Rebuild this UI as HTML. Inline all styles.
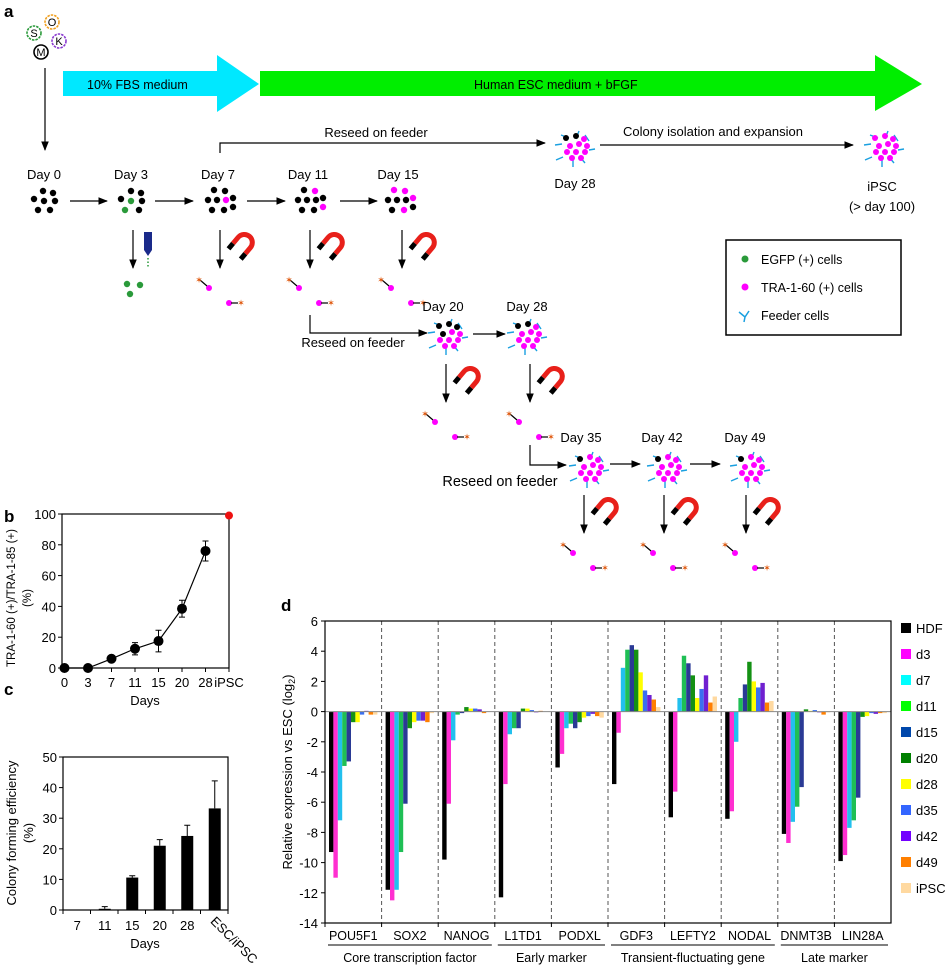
<!DOCTYPE html>
<html><head><meta charset="utf-8"><style>
html,body{margin:0;padding:0;background:#fff;}
svg{display:block;font-family:"Liberation Sans",Arial,sans-serif;}
</style></head><body>
<svg id="fig" width="946" height="971" viewBox="0 0 946 971" xmlns="http://www.w3.org/2000/svg">
<defs>
<marker id="ah" viewBox="0 0 10 10" refX="9" refY="5" markerWidth="8" markerHeight="8" orient="auto"><path d="M0,1 L10,5 L0,9 z" fill="#000"/></marker>
</defs>
<g id="panelA">
<text x="4" y="17" font-size="17" font-weight="bold">a</text>
<g font-size="11" text-anchor="middle">
<circle cx="34" cy="33" r="7" fill="#fff" stroke="#2a9a3a" stroke-width="1.6" stroke-dasharray="2.5 1"/><text x="34" y="37">S</text>
<circle cx="52" cy="22" r="7" fill="#fff" stroke="#f0a020" stroke-width="1.6" stroke-dasharray="2.5 1"/><text x="52" y="26">O</text>
<circle cx="59" cy="41" r="7" fill="#fff" stroke="#8a3ad0" stroke-width="1.6" stroke-dasharray="2.5 1"/><text x="59" y="45">K</text>
<circle cx="41" cy="52" r="7" fill="#fff" stroke="#000" stroke-width="1.6"/><text x="41" y="56">M</text>
</g>
<line x1="45" y1="68" x2="45" y2="150" stroke="#000" stroke-width="1.2" marker-end="url(#ah)"/>
<path d="M63,71 L217,71 L217,55 L259,84 L217,112 L217,96 L63,96 Z" fill="#00e8ff"/>
<text x="87" y="89" font-size="12.5">10% FBS medium</text>
<path d="M260,71 L875,71 L875,55 L922,84 L875,111 L875,96 L260,96 Z" fill="#00ee00"/>
<text x="474" y="89" font-size="12.5">Human ESC medium + bFGF</text>
<g id="dg" font-size="13" text-anchor="middle"></g>
<rect x="726" y="240" width="175" height="95" fill="#fff" stroke="#000" stroke-width="1.5"/>
<circle cx="745" cy="259" r="3.5" fill="#2a9a3a"/><text x="761" y="264" font-size="12.5">EGFP (+) cells</text>
<circle cx="745" cy="287" r="3.5" fill="#ff00ff"/><text x="761" y="292" font-size="12.5">TRA-1-60 (+) cells</text>
<path d="M739,312 L745,317 L749,311 M745,317 L744,322" stroke="#1aa0e0" stroke-width="1.5" fill="none"/><text x="761" y="320" font-size="12.5">Feeder cells</text>
</g>
<g id="panelB"></g>
<g id="panelC"></g>
<g id="panelD"></g>
</svg>
<script>
// ===== Panel b data =====
const bCats = ["0","3","7","11","15","20","28","iPSC"];
const bVals = [0,0,6,12.5,17.5,38.5,76,99];
const bErrs = [0,0,1.5,4,7,5.5,6.5,0];
const bTicks = [0,20,40,60,80,100];
// ===== Panel c data =====
const cCats = ["7","11","15","20","28","ESC/iPSC"];
const cVals = [0,0.4,10.6,21,24.2,33.2];
const cErrs = [0,0.7,0.6,2,3.5,9];
const cTicks = [0,10,20,30,40,50];
// ===== Panel d data =====
const dGenes = ["POU5F1","SOX2","NANOG","L1TD1","PODXL","GDF3","LEFTY2","NODAL","DNMT3B","LIN28A"];
const dSeries = ["HDF","d3","d7","d11","d15","d20","d28","d35","d42","d49","iPSC"];
const dHDF  = [-9.3,-11.8,-9.8,-12.3,-3.7,-4.8,-7.0,-7.1,-8.1,-9.9];
const dD3   = [-11.0,-12.5,-6.1,-4.8,-2.8,-1.4,-5.3,-6.6,-8.7,-9.5];
const dD7   = [-7.2,-11.8,-1.9,-1.5,-1.1,2.9,0.9,-2.0,-7.3,-7.7];
const dD11  = [-3.6,-9.3,-0.2,-1.1,-0.8,4.1,3.7,0.9,-6.3,-7.2];
const dD15  = [-3.3,-6.1,-0.1,-1.1,-1.1,4.4,3.2,1.8,-5.0,-5.7];
const dD20  = [-0.7,-1.1,0.3,0.2,-0.7,4.1,2.4,3.3,0.15,-0.35];
const dD28  = [-0.7,-0.7,0.2,0.2,-0.4,2.6,0.9,2.0,0.05,-0.3];
const dD35  = [-0.2,-0.6,0.2,0.1,-0.3,1.4,1.5,1.6,0.1,-0.1];
const dD42  = [0.05,-0.6,0.15,-0.05,-0.15,1.1,2.4,1.9,-0.05,-0.15];
const dD49  = [-0.2,-0.7,-0.1,0.05,-0.3,0.8,0.6,0.6,-0.2,-0.1];
const dIPSC = [-0.2,-0.1,0,0,-0.4,0.3,1.0,0.7,-0.05,-0.1];
const dTicks = [6,4,2,0,-2,-4,-6,-8,-10,-12,-14];
const dGroups = ["Core transcription factor","Early marker","Transient-fluctuating gene","Late marker"];
const dGroupSpan = [[0,2],[3,4],[5,7],[8,9]];

const NS="http://www.w3.org/2000/svg";
function mk(parent,tag,attrs,text){const e=document.createElementNS(NS,tag);for(const k in attrs)e.setAttribute(k,attrs[k]);if(text!==undefined)e.textContent=text;parent.appendChild(e);return e;}

// ===== Schematic =====
const dg=document.getElementById('dg');
function arrow(x1,y1,x2,y2){const l=mk(dg,'line',{x1,y1,x2,y2,stroke:'#000','stroke-width':1.2,'marker-end':'url(#ah)'});

}
function label(x,y,t){const e=mk(dg,'text',{x,y},t);

}
function dots(cx,cy,pts){pts.forEach(p=>mk(dg,'circle',{cx:cx+p[0],cy:cy+p[1],r:3.2,fill:p[2]}));}
const K='#000',M='#ff00ff',G='#2a9a3a';
function simple(cx,cy,mag){
  const base=[[-6,-11],[5,-10],[-12,-1],[-3,-1],[6,-1],[13,-3],[-8,9],[4,9],[13,6]];
  dots(cx,cy,base.map((p,i)=>[p[0],p[1],mag.includes(i)?M:K]));
}
function feederColony(cx,cy,nb){
  const g=mk(dg,'g',{});
  
  
  const f=[[-14,-12,-6,-9],[4,-16,1,-8],[10,-12,14,-6],[14,3,20,2],[5,10,10,16],[-2,12,-2,20],[-12,10,-19,13],[-13,-3,-20,-2]];
  f.forEach(s=>mk(g,'line',{x1:cx+s[0],y1:cy+s[1],x2:cx+s[2],y2:cy+s[3],stroke:'#1aa0e0','stroke-width':1.4}));
  const pts=[[-9,-9],[1,-11],[9,-8],[-5,-1],[4,-3],[12,-1],[-8,5],[1,5],[10,5],[-3,11],[6,11]];
  pts.forEach((p,i)=>mk(g,'circle',{cx:cx+p[0],cy:cy+p[1],r:3,fill:i<nb?K:M}));
}
function magnet(x,y){const g=mk(dg,'g',{transform:`translate(${x},${y}) rotate(40)`});
  
  
  mk(g,'path',{d:'M-8,6 L-8,-2 A8,8 0 0 1 8,-2 L8,6',fill:'none',stroke:'#e8201a','stroke-width':5});
  mk(g,'line',{x1:-8,y1:6,x2:-8,y2:13,stroke:'#000','stroke-width':5});
  mk(g,'line',{x1:8,y1:6,x2:8,y2:13,stroke:'#000','stroke-width':5});}
function ab(x,y){
  const g=mk(dg,'g',{});
  
  
  mk(g,'circle',{cx:x+9,cy:y+6,r:3,fill:M});mk(g,'line',{x1:x,y1:y-2,x2:x+7,y2:y+4,stroke:'#000','stroke-width':1.2});
  mk(g,'text',{x:x-1,y:y+1,'font-size':9,fill:'#e05a10'},'✶');
  mk(g,'circle',{cx:x+29,cy:y+21,r:3,fill:M});mk(g,'line',{x1:x+31,y1:y+21,x2:x+38,y2:y+21,stroke:'#000','stroke-width':1.2});
  mk(g,'text',{x:x+41,y:y+24,'font-size':9,fill:'#e05a10'},'✶');}
function downSort(x,y){arrow(x,y,x,y+38);magnet(x+23,y+14);ab(x-20,y+52);}
label(44,179,'Day 0');label(131,179,'Day 3');label(218,179,'Day 7');label(308,179,'Day 11');label(398,179,'Day 15');
dots(44,201,[[-1,-10,K],[9,-8,K],[-10,-2,K],[0,0,K],[11,0,K],[-6,9,K],[6,9,K]]);
dots(131,201,[[0,-10,K],[10,-8,K],[-10,-2,K],[0,0,G],[11,0,K],[-6,9,G],[8,9,K]]);
simple(220,201,[4]);simple(310,201,[1,8]);simple(400,201,[1,0,5,7]);
arrow(70,201,107,201);arrow(155,201,193,201);arrow(247,201,285,201);arrow(340,201,377,201);
mk(dg,'path',{d:'M220,153 L220,143 L545,143',fill:'none',stroke:'#000','stroke-width':1.2,'marker-end':'url(#ah)'});
mk(dg,'text',{x:376,y:137},'Reseed on feeder');
feederColony(575,147,2);label(575,188,'Day 28');
arrow(600,145,853,145);mk(dg,'text',{x:713,y:136},'Colony isolation and expansion');
feederColony(884,147,0);label(882,191,'iPSC');label(882,211,'(> day 100)');
arrow(133,230,133,268);
mk(dg,'path',{d:'M144,232 L152,232 L152,250 L148,256 L144,250 Z',fill:'#1a2a8a'});
mk(dg,'line',{x1:148,y1:258,x2:148,y2:268,stroke:'#2a9a3a','stroke-width':1.5,'stroke-dasharray':'1.5 2'});
dots(0,0,[[127,284,G],[140,285,G],[130,294,G]]);
downSort(220,230);downSort(310,230);downSort(402,230);
mk(dg,'path',{d:'M310,315 L310,333 L427,333',fill:'none',stroke:'#000','stroke-width':1.2,'marker-end':'url(#ah)'});
mk(dg,'text',{x:353,y:347},'Reseed on feeder');
label(443,311,'Day 20');label(527,311,'Day 28');
feederColony(448,335,4);feederColony(527,335,2);arrow(473,334,505,334);
downSort(446,364);downSort(530,364);
mk(dg,'path',{d:'M530,445 L530,465 L566,465',fill:'none',stroke:'#000','stroke-width':1.2,'marker-end':'url(#ah)'});
mk(dg,'text',{x:500,y:486,'font-size':14.5},'Reseed on feeder');
label(581,442,'Day 35');label(662,442,'Day 42');label(745,442,'Day 49');
feederColony(589,468,1);feederColony(667,468,1);feederColony(750,468,1);
arrow(610,464,640,464);arrow(690,464,720,464);
downSort(584,495);downSort(664,495);downSort(746,495);

// ===== Panel b =====
(function(){
const g=document.getElementById('panelB');
const X0=64.5,DX=23.5,Y0=668,H=154,PL=62,PR=229;
const xs=i=>X0+i*DX, ys=v=>Y0-v/100*H;
const lb=mk(g,'text',{x:4,y:522,'font-size':17,'font-weight':'bold'},'b');


mk(g,'rect',{x:PL,y:ys(100),width:PR-PL,height:H,fill:'none',stroke:'#000','stroke-width':1.2});
bTicks.forEach(t=>{mk(g,'line',{x1:PL-4,y1:ys(t),x2:PL,y2:ys(t),stroke:'#000'});
 const e=mk(g,'text',{x:PL-6,y:ys(t)+5,'font-size':13,'text-anchor':'end'},t);
 
 });
bCats.forEach((c,i)=>{mk(g,'line',{x1:xs(i),y1:Y0,x2:xs(i),y2:Y0+4,stroke:'#000'});
 const e=mk(g,'text',{x:xs(i),y:Y0+19,'font-size':13,'text-anchor':'middle'},c);
 
 });
let d='';for(let i=0;i<7;i++)d+=(i?'L':'M')+xs(i)+','+ys(bVals[i]);
mk(g,'path',{d,fill:'none',stroke:'#000','stroke-width':1.2});
bVals.forEach((v,i)=>{ if(bErrs[i]>0){mk(g,'path',{d:`M${xs(i)},${ys(v-bErrs[i])}V${ys(v+bErrs[i])}M${xs(i)-3},${ys(v-bErrs[i])}h6M${xs(i)-3},${ys(v+bErrs[i])}h6`,stroke:'#000',fill:'none'});}
 const p=mk(g,'circle',{cx:xs(i),cy:ys(v),r:i==7?4:5,fill:i==7?'#ee1111':'#000'});
 
 });
const xt=mk(g,'text',{x:145,y:705,'font-size':13,'text-anchor':'middle'},'Days');


const yt=mk(g,'text',{transform:'translate(15,598) rotate(-90)','font-size':11.5,'text-anchor':'middle'},'TRA-1-60 (+)/TRA-1-85 (+)');


mk(g,'text',{transform:'translate(31,598) rotate(-90)','font-size':11.5,'text-anchor':'middle'},'(%)');
})();

// ===== Panel c =====
(function(){
const g=document.getElementById('panelC');
const PL=63,PR=228,Y0=910,H=153,W=(PR-PL)/6;
const xs=i=>PL+W*(i+0.5)+0.5, ys=v=>Y0-v/50*H;
const lb=mk(g,'text',{x:4,y:695,'font-size':17,'font-weight':'bold'},'c');


mk(g,'rect',{x:PL,y:ys(50),width:PR-PL,height:H,fill:'none',stroke:'#000','stroke-width':1.2});
cTicks.forEach(t=>{mk(g,'line',{x1:PL-4,y1:ys(t),x2:PL,y2:ys(t),stroke:'#000'});
 const e=mk(g,'text',{x:PL-6,y:ys(t)+5,'font-size':13,'text-anchor':'end'},t);
 
 });
for(let i=0;i<=6;i++)mk(g,'line',{x1:PL+W*i,y1:Y0,x2:PL+W*i,y2:Y0+4,stroke:'#000'});
cCats.forEach((c,i)=>{
 const bar=mk(g,'rect',{x:xs(i)-6,y:ys(cVals[i]),width:12,height:Y0-ys(cVals[i]),fill:'#000'});
 
 
 if(cErrs[i]>0){const t=ys(cVals[i]+cErrs[i]);mk(g,'path',{d:`M${xs(i)},${ys(cVals[i])}V${t}M${xs(i)-3},${t}h6`,stroke:'#000',fill:'none'});}
 let e;
 if(i<5) e=mk(g,'text',{x:xs(i),y:Y0+20,'font-size':13,'text-anchor':'middle'},c);
 else e=mk(g,'text',{transform:`translate(${xs(i)-5},${Y0+12}) rotate(45)`,'font-size':13},c);
 
 });
const xt=mk(g,'text',{x:145,y:948,'font-size':13,'text-anchor':'middle'},'Days');


const yt=mk(g,'text',{transform:'translate(16,833) rotate(-90)','font-size':13,'text-anchor':'middle'},'Colony forming efficiency');


mk(g,'text',{transform:'translate(33,833) rotate(-90)','font-size':13,'text-anchor':'middle'},'(%)');
})();

// ===== Panel d =====
(function(){
const g=document.getElementById('panelD');
const PL=325,PR=891,YT=621,YB=923,GW=(PR-PL)/dGenes.length,BW=4.4;
const ys=v=>YT+(6-v)/20*(YB-YT);
const series=[dHDF,dD3,dD7,dD11,dD15,dD20,dD28,dD35,dD42,dD49,dIPSC];
const colors=['#000000','#ff2fd0','#22c0ee','#1fbf55','#2a3a95','#149114','#ffff00','#3b6ff0','#7020d0','#ff7f00','#ffd9a0'];
const lcolors=['#000000','#ff00ff','#00ffff','#00ff00','#0047ab','#008000','#ffff00','#3366ff','#7300ff','#ff7f00','#ffd9a0'];
const lb=mk(g,'text',{x:281,y:611,'font-size':17,'font-weight':'bold'},'d');


for(let k=1;k<dGenes.length;k++)mk(g,'line',{x1:PL+GW*k,y1:YT,x2:PL+GW*k,y2:YB,stroke:'#555','stroke-dasharray':'4 3'});
dGenes.forEach((gn,k)=>{series.forEach((s,j)=>{const v=s[k];const x=PL+GW*k+4+j*BW;
 const r=mk(g,'rect',{x:x,y:Math.min(ys(v),ys(0)),width:BW,height:Math.abs(ys(v)-ys(0)),fill:colors[j]});
 
 });
 mk(g,'line',{x1:PL+GW*k,y1:YB,x2:PL+GW*k,y2:YB+4,stroke:'#000'});
 const e=mk(g,'text',{x:PL+GW*(k+0.5),y:YB+17,'font-size':12.5,'text-anchor':'middle'},gn);
 
 });
mk(g,'line',{x1:PL,y1:ys(0),x2:PR,y2:ys(0),stroke:'#888','stroke-width':1});
mk(g,'rect',{x:PL,y:YT,width:PR-PL,height:YB-YT,fill:'none',stroke:'#000','stroke-width':1.2});
dTicks.forEach(t=>{mk(g,'line',{x1:PL-4,y1:ys(t),x2:PL,y2:ys(t),stroke:'#000'});
 const e=mk(g,'text',{x:PL-7,y:ys(t)+5,'font-size':13,'text-anchor':'end'},t);
 
 });
dGroups.forEach((gr,i)=>{const a=PL+GW*dGroupSpan[i][0]+3,b=PL+GW*(dGroupSpan[i][1]+1)-3;
 mk(g,'line',{x1:a,y1:945,x2:b,y2:945,stroke:'#000'});
 const e=mk(g,'text',{x:(a+b)/2,y:962,'font-size':12.5,'text-anchor':'middle'},gr);
 
 });
const yt=mk(g,'text',{transform:'translate(292,772) rotate(-90)','font-size':13,'text-anchor':'middle'});


yt.innerHTML='Relative expression vs ESC (log<tspan font-size="9" dy="3">2</tspan><tspan dy="-3">)</tspan>';
dSeries.forEach((s,j)=>{const y=629+j*26;
 const r=mk(g,'rect',{x:901,y:y-6,width:10,height:10,fill:lcolors[j]});
 
 
 const e=mk(g,'text',{x:916,y:y+4,'font-size':13},s);
 
 });
})();
</script>
</body></html>
